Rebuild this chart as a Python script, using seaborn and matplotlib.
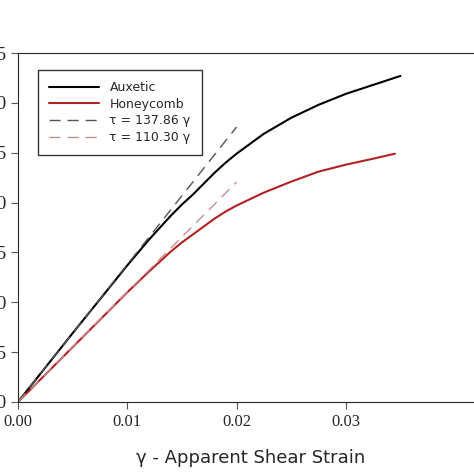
import numpy as np
import pandas as pd
import matplotlib
matplotlib.use("Agg")
import matplotlib.pyplot as plt
import seaborn as sns

aux_x = [0, 0.005, 0.01, 0.011, 0.012, 0.013, 0.014, 0.015, 0.016, 0.017, 0.018, 0.019, 0.02,
         0.0225, 0.025, 0.0275, 0.03, 0.0325, 0.035]
aux_y = [0, 0.69, 1.37, 1.50, 1.63, 1.75, 1.87, 1.98, 2.08, 2.19, 2.30, 2.40, 2.49,
         2.69, 2.85, 2.98, 3.09, 3.18, 3.27]
hc_x = [0, 0.005, 0.01, 0.012, 0.013, 0.014, 0.015, 0.016, 0.017, 0.018, 0.019, 0.02,
        0.0225, 0.025, 0.0275, 0.03, 0.0325, 0.0345]
hc_y = [0, 0.55, 1.10, 1.31, 1.41, 1.51, 1.60, 1.68, 1.76, 1.84, 1.91, 1.97,
        2.10, 2.21, 2.31, 2.38, 2.44, 2.49]
fit_x = [0, 0.02]
slopes = [137.86, 110.30]

sns.set_style("ticks")
fig = plt.figure(figsize=(4.74, 4.74), dpi=100)
ax = fig.add_axes([18/474, 1-402/474, 1-18/474+0.02, (402-53)/474])

sns.lineplot(x=aux_x, y=aux_y, ax=ax, color="black", lw=1.5, label="Auxetic")
sns.lineplot(x=hc_x, y=hc_y, ax=ax, color="#b22222", lw=1.5, label="Honeycomb")
sns.lineplot(x=fit_x, y=[slopes[0]*v for v in fit_x], ax=ax, color="#555555", lw=1,
             label="τ = 137.86 γ").lines[-1].set_dashes([8, 5])
sns.lineplot(x=fit_x, y=[slopes[1]*v for v in fit_x], ax=ax, color="#c09090", lw=1,
             label="τ = 110.30 γ").lines[-1].set_dashes([8, 5])

ax.set_xlim(0, 0.0426)
ax.set_ylim(0, 3.5)
ax.set_xticks([0, 0.01, 0.02, 0.03])
ax.set_xticklabels(["0.00", "0.01", "0.02", "0.03"], fontfamily="Liberation Serif", fontsize=12)
ax.set_yticks(np.arange(0, 3.51, 0.5))
ax.set_yticklabels([f"{v:.1f}" for v in np.arange(0, 3.51, 0.5)], fontfamily="Liberation Serif", fontsize=14)
ax.tick_params(direction="out", length=5, color="#555555")
ax.set_xlabel("γ - Apparent Shear Strain", fontsize=13, labelpad=14)
leg = ax.legend(loc="upper left", bbox_to_anchor=(0.03, 0.97), fancybox=False, edgecolor="black",
                fontsize=9, handlelength=4, borderpad=0.9, labelspacing=0.3)
leg.get_frame().set_linewidth(1)
fig.savefig("out.png", dpi=100)
